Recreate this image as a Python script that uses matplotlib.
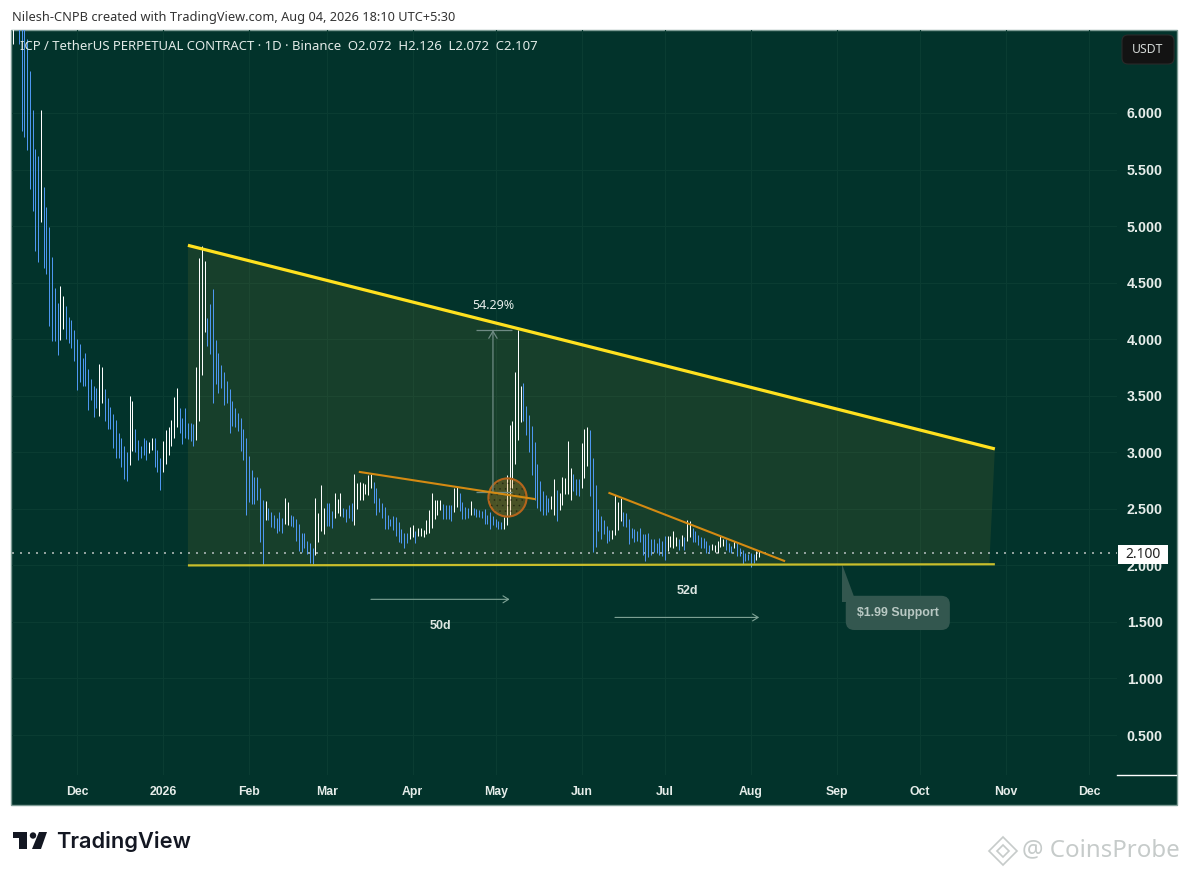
#!/usr/bin/env python3
# ICP / USDT perpetual, daily bars with the hand drawn triangle on top
import numpy as np
import pandas as pd
import matplotlib
matplotlib.use("Agg")
import matplotlib.pyplot as plt
import matplotlib.dates as mdates
from matplotlib.patches import Polygon, Rectangle, FancyBboxPatch, Circle
from matplotlib.lines import Line2D
from matplotlib.transforms import Affine2D

plt.rcParams['font.family'] = ['Noto Sans', 'DejaVu Sans']
plt.rcParams['hatch.linewidth'] = 0.5

# daily highs
highs = [7.2,7.5,7.2,7.2,7.2,6.65,6.37,6.03,5.68,5.62,
         6.03,5.35,5.17,4.99,4.73,4.45,4.32,4.47,4.38,4.29,
         4.20,4.17,4.08,4.00,3.96,3.83,3.88,3.74,3.65,3.59,
         3.57,3.78,3.75,3.56,3.48,3.40,3.34,3.29,3.17,3.13,
         3.06,3.00,3.50,3.45,3.21,3.11,3.06,3.13,3.11,3.09,
         3.13,3.13,3.02,2.95,3.10,3.20,3.22,3.29,3.49,3.57,
         3.39,3.30,3.39,3.26,3.26,3.25,3.75,4.72,4.82,4.69,
         4.19,4.31,4.44,3.99,3.88,3.77,3.71,3.63,3.56,3.45,
         3.39,3.35,3.30,3.21,3.13,2.97,2.84,2.78,2.78,2.68,
         2.58,2.57,2.51,2.47,2.45,2.42,2.47,2.42,2.60,2.56,
         2.45,2.44,2.41,2.37,2.29,2.29,2.22,2.20,2.15,2.60,
         2.46,2.71,2.51,2.55,2.55,2.48,2.64,2.59,2.64,2.51,
         2.50,2.53,2.55,2.81,2.73,2.74,2.73,2.72,2.80,2.81,
         2.74,2.68,2.60,2.55,2.52,2.45,2.41,2.44,2.43,2.38,
         2.32,2.29,2.29,2.34,2.36,2.30,2.33,2.33,2.31,2.40,
         2.49,2.64,2.58,2.58,2.58,2.54,2.53,2.53,2.53,2.68,
         2.69,2.64,2.56,2.52,2.51,2.57,2.51,2.50,2.49,2.48,
         2.50,2.45,2.47,2.44,2.41,2.39,2.38,2.43,2.80,3.24,
         3.28,3.71,4.08,3.59,3.61,3.41,3.33,3.23,3.09,2.90,
         2.75,2.66,2.62,2.60,2.61,2.76,2.67,2.64,2.78,2.77,
         3.10,2.86,2.81,2.76,2.76,3.08,3.21,3.22,3.20,2.95,
         2.71,2.50,2.44,2.40,2.35,2.31,2.31,2.62,2.56,2.60,
         2.47,2.46,2.41,2.33,2.32,2.30,2.33,2.28,2.28,2.29,
         2.23,2.23,2.20,2.24,2.22,2.26,2.26,2.26,2.30,2.25,
         2.23,2.27,2.25,2.40,2.39,2.33,2.30,2.27,2.25,2.24,
         2.22,2.18,2.19,2.18,2.22,2.26,2.23,2.23,2.20,2.17,
         2.22,2.21,2.15,2.14,2.11,2.10,2.11,2.10,2.13,2.126]
lows = [6.61,6.8,6.61,5.84,5.79,5.67,5.33,5.13,4.78,4.68,
        5.04,4.63,4.58,4.12,3.98,3.98,3.86,3.99,4.09,4.00,
        3.97,3.92,3.81,3.55,3.62,3.59,3.59,3.37,3.46,3.31,
        3.39,3.32,3.44,3.28,3.21,3.21,3.04,2.95,2.95,2.87,
        2.76,2.75,2.89,3.01,3.00,2.93,2.95,2.98,2.93,2.99,
        3.02,2.87,2.83,2.67,2.83,2.90,2.98,3.06,3.13,3.22,
        3.17,3.07,3.13,3.12,3.10,3.06,3.11,3.28,3.68,4.06,
        3.94,3.87,3.44,3.60,3.52,3.57,3.42,3.44,3.17,3.23,
        3.22,3.19,3.01,2.93,2.45,2.56,2.54,2.54,2.58,2.21,
        2.00,2.40,2.40,2.34,2.33,2.29,2.30,2.29,2.37,2.36,
        2.35,2.34,2.22,2.13,2.12,2.15,2.10,2.02,2.01,2.09,
        2.21,2.30,2.28,2.35,2.35,2.33,2.42,2.46,2.44,2.43,
        2.38,2.42,2.39,2.36,2.50,2.58,2.58,2.63,2.62,2.68,
        2.55,2.45,2.47,2.42,2.32,2.32,2.35,2.31,2.26,2.21,
        2.20,2.15,2.20,2.23,2.25,2.20,2.26,2.26,2.25,2.28,
        2.29,2.33,2.41,2.45,2.49,2.41,2.41,2.41,2.39,2.47,
        2.52,2.48,2.41,2.41,2.42,2.45,2.45,2.43,2.43,2.42,
        2.37,2.37,2.32,2.36,2.34,2.32,2.32,2.32,2.36,2.44,
        2.68,2.90,3.11,3.27,3.28,3.15,3.00,2.80,2.58,2.51,
        2.48,2.45,2.45,2.47,2.50,2.45,2.39,2.49,2.53,2.63,
        2.63,2.58,2.66,2.62,2.61,2.68,2.77,2.88,2.61,2.12,
        2.16,2.30,2.23,2.28,2.20,2.22,2.23,2.27,2.31,2.39,
        2.35,2.34,2.19,2.24,2.21,2.22,2.21,2.09,2.04,2.07,
        2.09,2.12,2.11,2.09,2.08,2.05,2.13,2.16,2.15,2.17,
        2.14,2.17,2.14,2.22,2.25,2.21,2.21,2.18,2.15,2.15,
        2.11,2.11,2.14,2.12,2.11,2.16,2.17,2.14,2.12,2.11,
        2.15,2.08,2.08,2.01,2.04,2.05,1.99,2.02,2.05,2.072]
# u = white (up) bar, d = blue (down) bar
bar_dir = ("uddddddddd" "udddddduud" "dddddddddd" "duuddddddd" "dduudddddu"
           "uddduuuuuu" "dddddduuuu" "dddddddddd" "dddddddddd" "dudddddduu"
           "dddddddddu" "uuuddduuud" "ddduuuuuuu" "dddddddddd" "ddduuduuuu"
           "uuuuuddddu" "uddddudddd" "ddddddduuu" "uuuudddddd" "dddduuduuu"
           "uuddduuudd" "dddddduuuu" "dddddddddd" "dddddduuuu" "duduuddddd"
           "dduuuuuddd" "uddddddduu")
dates = pd.date_range(end="2026-08-04", periods=len(highs))
last_close = 2.107

price_ticks = [0.5, 1.0, 1.5, 2.0, 2.5, 3.0, 3.5, 4.0, 4.5, 5.0, 5.5, 6.0]
month_ticks = ["2025-12-01", "2026-01-01", "2026-02-01", "2026-03-01", "2026-04-01", "2026-05-01",
               "2026-06-01", "2026-07-01", "2026-08-01", "2026-09-01", "2026-10-01", "2026-11-01", "2026-12-01"]
month_labels = ["Dec", "2026", "Feb", "Mar", "Apr", "May", "Jun", "Jul", "Aug", "Sep", "Oct", "Nov", "Dec"]

# drawings, (date, price)
top_line = (["2026-01-10", "2026-10-28"], [4.83, 3.03])
base_line = (["2026-01-10", "2026-10-28"], [2.00, 2.01])
wedge_dates = ["2026-01-10", "2026-10-28", "2026-10-26", "2026-01-10"]
wedge_prices = [4.83, 3.03, 2.01, 2.00]
trend_a = (["2026-03-13", "2026-05-15"], [2.826, 2.587])
trend_b = (["2026-06-11", "2026-08-13"], [2.64, 2.04])
circle_at = ("2026-05-05", 2.602)
range_date = "2026-04-30"
range_span = ("2026-04-24", "2026-05-07")
range_prices = (2.65, 4.08)
arrow_50d = (("2026-03-17", "2026-05-06"), 1.70)
arrow_52d = (("2026-06-13", "2026-08-04"), 1.54)
tail_dates = ["2026-09-03", "2026-09-03", "2026-09-08"]
tail_prices = [2.01, 1.68, 1.68]

BG = "#02332B"
GRID = "#0A3C32"
BLUE = "#4E97F0"
BOLD = ["Liberation Sans", "DejaVu Sans"]
FW, FH = 1188, 875


def d(s):
    return mdates.date2num(pd.Timestamp(s))


fig = plt.figure(figsize=(FW / 100, FH / 100), dpi=100, facecolor="white")
px = Affine2D().scale(1, -1).translate(0, FH)  # picture pixels, y down

fig.add_artist(Rectangle((11, 30), 1166, 775, transform=px, fc=BG, ec="#7E9C95", lw=1, zorder=-5))

ax = fig.add_axes([12 / FW, (FH - 775) / FH, 1105 / FW, 745 / FH], facecolor="none")
x_dec = d("2025-12-01")
ax.set_xlim(x_dec - 65 / 2.773, x_dec + 1040 / 2.773)
ax.set_ylim(6 - 662 / 113.1, 6 + 83 / 113.1)
for s in ax.spines.values():
    s.set_visible(False)

ax.set_xticks([d(m) for m in month_ticks])
ax.set_xticklabels(month_labels)
ax.set_yticks(price_ticks)
ax.set_yticklabels(["%.3f" % p for p in price_ticks])
ax.yaxis.tick_right()
ax.tick_params(axis="x", length=0, pad=8, labelsize=8.8, labelcolor="#E6EDEA")
ax.tick_params(axis="y", length=0, pad=7, labelsize=10.3, labelcolor="#E6EDEA")
for t in ax.get_xticklabels() + ax.get_yticklabels():
    t.set_family(BOLD)
    t.set_fontweight("bold")
ax.grid(True, color=GRID, lw=0.8)
ax.set_axisbelow(True)

# triangle shading goes under the bars
ax.add_patch(Polygon(list(zip([d(x) for x in wedge_dates], wedge_prices)), closed=True,
                     fc="#6C7430", ec="none", alpha=0.2, zorder=1))

ax.axhline(last_close, color="#92A29E", lw=1.44, ls=(0, (1, 3)), zorder=1.5)

bar_x = mdates.date2num(dates)
up = np.array([c == "u" for c in bar_dir])
highs_a = np.array(highs)
lows_a = np.array(lows)
ax.vlines(bar_x[~up], lows_a[~up], highs_a[~up], color=BLUE, lw=0.72, zorder=2, snap=True)
ax.vlines(bar_x[up], lows_a[up], highs_a[up], color="white", lw=0.72, zorder=2, snap=True)

ax.plot([d(x) for x in top_line[0]], top_line[1], color="#FFE11F", lw=2.3, zorder=4, solid_capstyle="butt")
ax.plot([d(x) for x in base_line[0]], base_line[1], color="#C9BE2B", lw=1.6, zorder=4, solid_capstyle="butt")
ax.plot([d(x) for x in trend_a[0]], trend_a[1], color="#D48A12", lw=1.5, zorder=4)
ax.plot([d(x) for x in trend_b[0]], trend_b[1], color="#D48A12", lw=1.5, zorder=4)

ax.plot(d(circle_at[0]), circle_at[1], "o", ms=27.5, mfc=(0.85, 0.55, 0.1, 0.27),
        mec="#B5651C", mew=1.5, zorder=3)
ax.scatter([d(circle_at[0])], [circle_at[1]], s=26 ** 2, fc="none", ec=(0, 0, 0, 0.35), lw=0,
           hatch="...", zorder=3)

# measured move
GREY = "#6F8B84"
ax.hlines(range_prices, d(range_span[0]), d(range_span[1]), color=GREY, lw=0.9, zorder=3)
ax.annotate("", xy=(d(range_date), range_prices[1]), xytext=(d(range_date), range_prices[0]),
            arrowprops=dict(arrowstyle="->,head_length=0.5,head_width=0.3", color=GREY, lw=0.9,
                            shrinkA=0, shrinkB=0), zorder=3)
ax.text(d(range_date), 4.30, "54.29%", color="#E8EEEB", fontsize=9, ha="center", va="center")

# bar count arrows
ARROW = "#7FA396"
for (x0, x1), y in (arrow_50d, arrow_52d):
    ax.annotate("", xy=(d(x1), y), xytext=(d(x0), y),
                arrowprops=dict(arrowstyle="->,head_length=0.4,head_width=0.25", color=ARROW, lw=0.8,
                                shrinkA=0, shrinkB=0))
ax.text(d("2026-04-11"), 1.46, "50d", color="#DDE6E2", fontsize=9, fontweight="bold", family=BOLD, ha="center", va="center")
ax.text(d("2026-07-09"), 1.77, "52d", color="#DDE6E2", fontsize=9, fontweight="bold", family=BOLD, ha="center", va="center")

# support callout
CALL = "#33574F"
ax.add_patch(Polygon(list(zip([d(x) for x in tail_dates], tail_prices)), closed=True, fc=CALL, ec="none", zorder=3))
ax.text(d("2026-09-23"), 1.58, "$1.99 Support", color="#B9C9C4", fontsize=8.9, fontweight="bold", family=BOLD,
        ha="center", va="center", zorder=5,
        bbox=dict(boxstyle="round,pad=0.9,rounding_size=0.7", fc=CALL, ec="none"))

# price label of the last close
fig.add_artist(Rectangle((1118, 545), 50, 18.5, transform=px, fc="white", ec="none", zorder=6))
fig.text(1143 / FW, 1 - 554.5 / FH, "2.100", color="#222222", fontsize=10, ha="center", va="center", zorder=7)

# price scale bits
fig.add_artist(Line2D([1117, 1176], [775, 775], transform=px, color="white", lw=1, zorder=6))
fig.add_artist(FancyBboxPatch((1125, 38), 46, 23, boxstyle="round,pad=3,rounding_size=6", transform=px,
                              fc="#131313", ec="#2A2A2A", lw=0.8, zorder=6))
fig.text(1148 / FW, 1 - 49.5 / FH, "USDT", color="#D4D8D6", fontsize=8.8, ha="center", va="center", zorder=7)

# header and legend
fig.text(12 / FW, 1 - 17 / FH, "Nilesh-CNPB created with TradingView.com, Aug 04, 2026 18:10 UTC+5:30",
         color="#333333", fontsize=9.2, ha="left", va="center")
fig.text(20 / FW, 1 - 47 / FH, "ICP / TetherUS PERPETUAL CONTRACT · 1D · Binance  O2.072  H2.126  L2.072  C2.107",
         color="#E3EBE8", fontsize=9.45, fontweight="medium", ha="left", va="center", zorder=7)

# TradingView logo
logo = "#131722"
fig.add_artist(Polygon([(13, 832), (27, 832), (27, 849), (19, 849), (19, 838), (13, 838)], transform=px, fc=logo, ec="none"))
fig.add_artist(Circle((33, 835.5), 3.2, transform=px, fc=logo, ec="none"))
fig.add_artist(Polygon([(39, 832), (47, 832), (41, 849), (32, 849)], transform=px, fc=logo, ec="none"))
fig.text(56 / FW, 1 - 841 / FH, "TradingView", color=logo, fontsize=15.7, fontweight="semibold",
         family=["Inter", "DejaVu Sans"], ha="left", va="center")

# watermark
WM = "#C6CBCA"
for cx, cy, r in ((1003, 851, 14), (1003, 851, 6)):
    fig.add_artist(Polygon([(cx, cy - r), (cx + r, cy), (cx, cy + r), (cx - r, cy)], transform=px,
                           fc="none", ec=WM, lw=1.2))
fig.text(1022 / FW, 1 - 850 / FH, "@ CoinsProbe", color=WM, fontsize=17.3, ha="left", va="center")

fig.savefig("out.png", dpi=100, facecolor="white")
